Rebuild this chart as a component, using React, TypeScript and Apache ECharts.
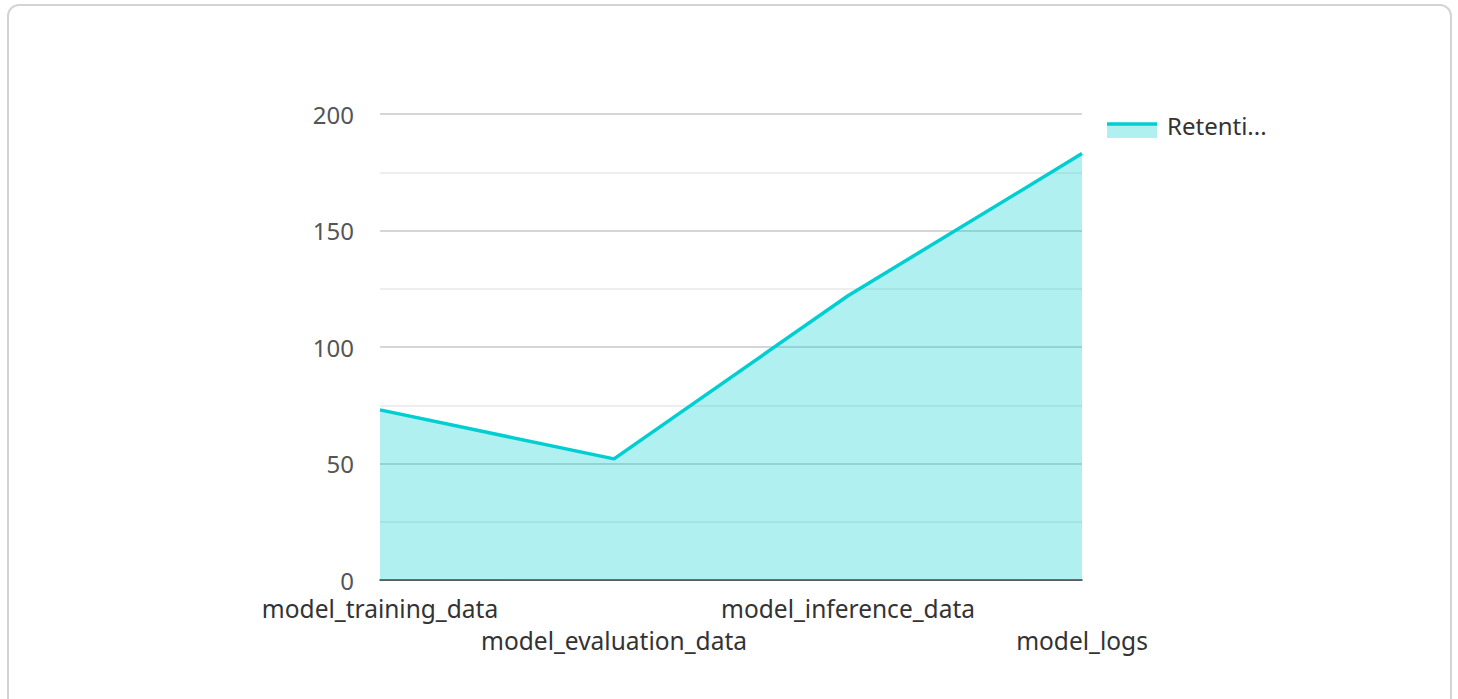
import React, { useEffect, useRef } from "react";
import * as echarts from "echarts";

const categories = ["model_training_data", "model_evaluation_data", "model_inference_data", "model_logs"];
const retentionValues = [73, 52, 122, 183];
const seriesName = "Retention Period (days)";
const yTicks = [0, 50, 100, 150, 200];

const LINE = "#00CED1";
const AREA = "rgba(0,206,209,0.31)";
const FONT = "'Noto Sans', sans-serif";

export default function App() {
  const ref = useRef<HTMLDivElement>(null);
  useEffect(() => {
    if (!ref.current) return;
    const chart = echarts.init(ref.current, undefined, { renderer: "svg" });
    chart.setOption({
      animation: false,
      textStyle: { fontFamily: FONT },
      grid: { left: 380, right: 376, top: 114, bottom: 119 },
      legend: { show: false, data: [seriesName] },
      graphic: [
        {
          type: "rect",
          shape: { x: 1107, y: 124, width: 50, height: 14 },
          style: { fill: AREA },
          z: 100,
        },
        {
          type: "line",
          shape: { x1: 1107, y1: 124, x2: 1157, y2: 124 },
          style: { stroke: LINE, lineWidth: 3.5 },
          z: 101,
        },
        {
          type: "text",
          x: 1167,
          y: 125,
          style: {
            text: seriesName,
            fontFamily: FONT,
            fontSize: 24,
            fill: "#333",
            width: 104,
            overflow: "truncate",
            ellipsis: "...",
            verticalAlign: "middle",
            align: "left",
          },
          z: 101,
        },
      ],
      xAxis: {
        type: "category",
        data: categories,
        boundaryGap: false,
        axisLine: { show: true, lineStyle: { color: "#333", width: 1.5 } },
        axisTick: { show: false },
        axisLabel: {
          fontFamily: FONT,
          fontSize: 24.5,
          color: "#333",
          margin: 12,
          lineHeight: 32,
          interval: 0,
          formatter: (v: string, i: number) => (i % 2 === 1 ? "\n" + v : v),
        },
        splitLine: { show: false },
      },
      yAxis: {
        type: "value",
        min: yTicks[0],
        max: yTicks[yTicks.length - 1],
        interval: 50,
        axisLine: { show: false },
        axisTick: { show: false },
        axisLabel: { fontFamily: FONT, fontSize: 24, color: "#555", margin: 26 },
        splitLine: { show: true, lineStyle: { color: "#c8c8c8", width: 1.5 } },
        minorTick: { show: false, splitNumber: 2 },
        minorSplitLine: { show: true, lineStyle: { color: "#e8e8e8", width: 1.5 } },
      },
      series: [
        {
          name: seriesName,
          type: "line",
          data: retentionValues,
          showSymbol: false,
          symbol: "none",
          lineStyle: { color: LINE, width: 3.5 },
          itemStyle: { color: LINE },
          areaStyle: { color: AREA, opacity: 1 },
        },
      ],
    });
    return () => chart.dispose();
  }, []);
  return (
    <div style={{ position: "fixed", left: 0, top: 0, width: 1458, height: 699, background: "#fff" }}>
      <div
        style={{
          position: "absolute",
          left: 7,
          top: 4,
          width: 1445,
          height: 710,
          boxSizing: "border-box",
          border: "2px solid #d4d4d4",
          borderRadius: 12,
        }}
      />
      <div ref={ref} style={{ position: "absolute", left: 0, top: 0, width: 1458, height: 699 }} />
    </div>
  );
}
